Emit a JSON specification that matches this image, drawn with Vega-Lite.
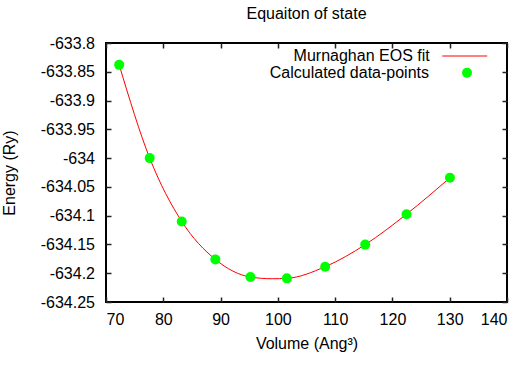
{
  "$schema": "https://vega.github.io/schema/vega-lite/v6.json",
  "autosize": {"type": "none"},
  "width": 401,
  "height": 259,
  "padding": {"left": 106, "top": 43, "right": 21, "bottom": 65},
  "background": "white",
  "title": {"text": "Equaiton of state", "fontSize": 16, "fontWeight": "normal", "font": "Liberation Sans", "color": "#000", "offset": 11},
  "datasets": {
    "curve": [
      {"V": 72.3, "E": -633.838, "series": "Murnaghan EOS fit"},
      {"V": 77.63, "E": -634.0, "series": "Murnaghan EOS fit"},
      {"V": 83.22, "E": -634.110, "series": "Murnaghan EOS fit"},
      {"V": 89.09, "E": -634.176, "series": "Murnaghan EOS fit"},
      {"V": 95.21, "E": -634.2066, "series": "Murnaghan EOS fit"},
      {"V": 99.0, "E": -634.2096, "series": "Murnaghan EOS fit"},
      {"V": 101.57, "E": -634.2089, "series": "Murnaghan EOS fit"},
      {"V": 108.26, "E": -634.1887, "series": "Murnaghan EOS fit"},
      {"V": 115.25, "E": -634.1503, "series": "Murnaghan EOS fit"},
      {"V": 122.46, "E": -634.0974, "series": "Murnaghan EOS fit"},
      {"V": 130.04, "E": -634.0341, "series": "Murnaghan EOS fit"}
    ],
    "points": [
      {"V": 72.3, "E": -633.838, "kind": "Calculated data-points"},
      {"V": 77.63, "E": -634.0, "kind": "Calculated data-points"},
      {"V": 83.22, "E": -634.110, "kind": "Calculated data-points"},
      {"V": 89.09, "E": -634.176, "kind": "Calculated data-points"},
      {"V": 95.21, "E": -634.2066, "kind": "Calculated data-points"},
      {"V": 101.57, "E": -634.2089, "kind": "Calculated data-points"},
      {"V": 108.26, "E": -634.1887, "kind": "Calculated data-points"},
      {"V": 115.25, "E": -634.1503, "kind": "Calculated data-points"},
      {"V": 122.46, "E": -634.0974, "kind": "Calculated data-points"},
      {"V": 130.04, "E": -634.0341, "kind": "Calculated data-points"}
    ]
  },
  "resolve": {"axis": {"x": "independent", "y": "independent"}, "legend": {"color": "independent", "shape": "independent"}},
  "layer": [
    {
      "data": {"name": "curve"},
      "mark": {"type": "line", "interpolate": "monotone", "strokeWidth": 1},
      "encoding": {
        "x": {"field": "V", "type": "quantitative", "scale": {"domain": [70, 140], "nice": false, "zero": false},
          "axis": {"orient": "bottom", "values": [70, 80, 90, 100, 110, 120, 130, 140], "title": "Volume (Ang³)", "labelPadding": 14, "titlePadding": 8}},
        "y": {"field": "E", "type": "quantitative", "scale": {"domain": [-634.25, -633.8], "nice": false, "zero": false},
          "axis": {"orient": "left", "values": [-634.25, -634.2, -634.15, -634.1, -634.05, -634.0, -633.95, -633.9, -633.85, -633.8], "format": "~g", "labelExpr": "replace(datum.label, '−', '-')", "title": "Energy (Ry)", "labelPadding": 16.5, "titlePadding": 23}},
        "color": {"field": "series", "type": "nominal", "scale": {"domain": ["Murnaghan EOS fit"], "range": ["#ff0000"]},
          "legend": {"title": null, "orient": "none", "legendX": 335.7, "legendY": -10, "symbolType": "stroke", "symbolSize": 2025, "symbolStrokeWidth": 1, "labelAlign": "right", "labelOffset": -58, "labelFontSize": 16, "labelLimit": 400, "padding": 0}}
      }
    },
    {
      "data": {"name": "points"},
      "mark": {"type": "point", "filled": true, "size": 100, "color": "#00ff00", "opacity": 1},
      "encoding": {
        "x": {"field": "V", "type": "quantitative",
          "axis": {"orient": "top", "values": [70, 80, 90, 100, 110, 120, 130, 140], "labels": false, "title": null}},
        "y": {"field": "E", "type": "quantitative",
          "axis": {"orient": "right", "values": [-634.25, -634.2, -634.15, -634.1, -634.05, -634.0, -633.95, -633.9, -633.85, -633.8], "labels": false, "title": null}},
        "shape": {"field": "kind", "type": "nominal", "scale": {"domain": ["Calculated data-points"], "range": ["circle"]},
          "legend": {"title": null, "orient": "none", "legendX": 353, "legendY": 21.7, "symbolSize": 100, "symbolFillColor": "#00ff00", "symbolStrokeWidth": 0, "labelAlign": "right", "labelOffset": -46, "labelFontSize": 16, "labelLimit": 400, "padding": 0}}
      }
    }
  ],
  "config": {
    "font": "Liberation Sans",
    "view": {"stroke": "#000", "strokeWidth": 2},
    "axis": {
      "domain": false,
      "grid": false,
      "tickSize": -5,
      "tickColor": "#222",
      "tickWidth": 1.5,
      "labelFontSize": 16,
      "labelColor": "#000",
      "labelFont": "Liberation Sans",
      "titleFontSize": 16,
      "titleFontWeight": "normal",
      "titleColor": "#000",
      "titleFont": "Liberation Sans"
    },
    "legend": {"labelColor": "#000", "labelFont": "Liberation Sans"}
  }
}
